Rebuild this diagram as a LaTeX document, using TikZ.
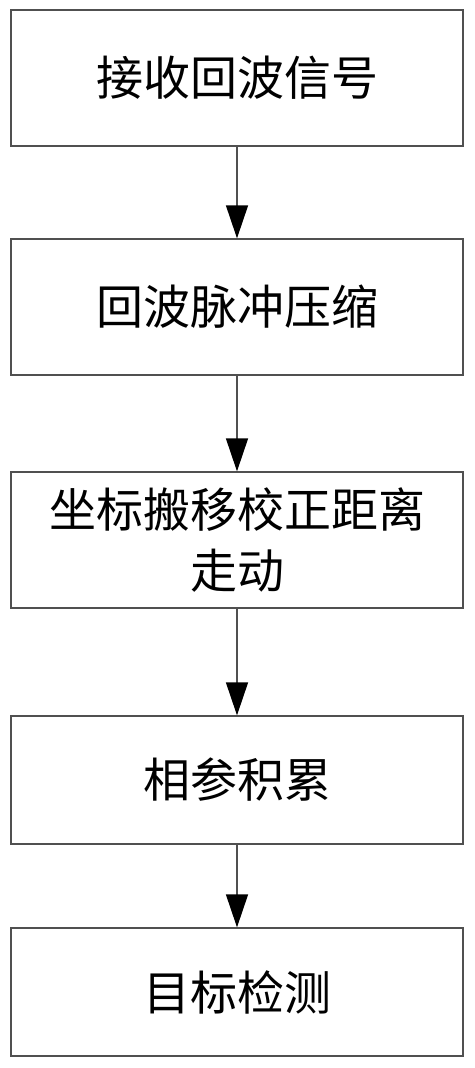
\documentclass[tikz,border=0pt]{standalone}
\usepackage{fontspec}
\newfontfamily\cjk{Noto Sans CJK SC}
\usetikzlibrary{arrows.meta}
\definecolor{edge}{RGB}{80,80,80}
\tikzset{
  stepbox/.style={draw=edge, line width=1.3pt, fill=white, minimum width=452pt,
    inner sep=0pt, align=center, font=\cjk\fontsize{47}{61}\selectfont},
  flow/.style={draw=edge, line width=1.3pt, -{Triangle[width=22pt,length=33pt,fill=black,color=black]}}
}
\begin{document}
\begin{tikzpicture}[x=1pt,y=-1pt]
\useasboundingbox (0,0) rectangle (474,1068);
\node[stepbox, minimum height=136pt] (s1) at (237,78) {接收回波信号};
\node[stepbox, minimum height=136pt] (s2) at (237,307) {回波脉冲压缩};
\node[stepbox, minimum height=136pt] (s3) at (237,540) {坐标搬移校正距离\\走动};
\node[stepbox, minimum height=128pt] (s4) at (237,780) {相参积累};
\node[stepbox, minimum height=128pt] (s5) at (237,992) {目标检测};
\draw[flow] (s1.south) -- (s2.north);
\draw[flow] (s2.south) -- (s3.north);
\draw[flow] (s3.south) -- (s4.north);
\draw[flow] (s4.south) -- (s5.north);
\end{tikzpicture}
\end{document}
